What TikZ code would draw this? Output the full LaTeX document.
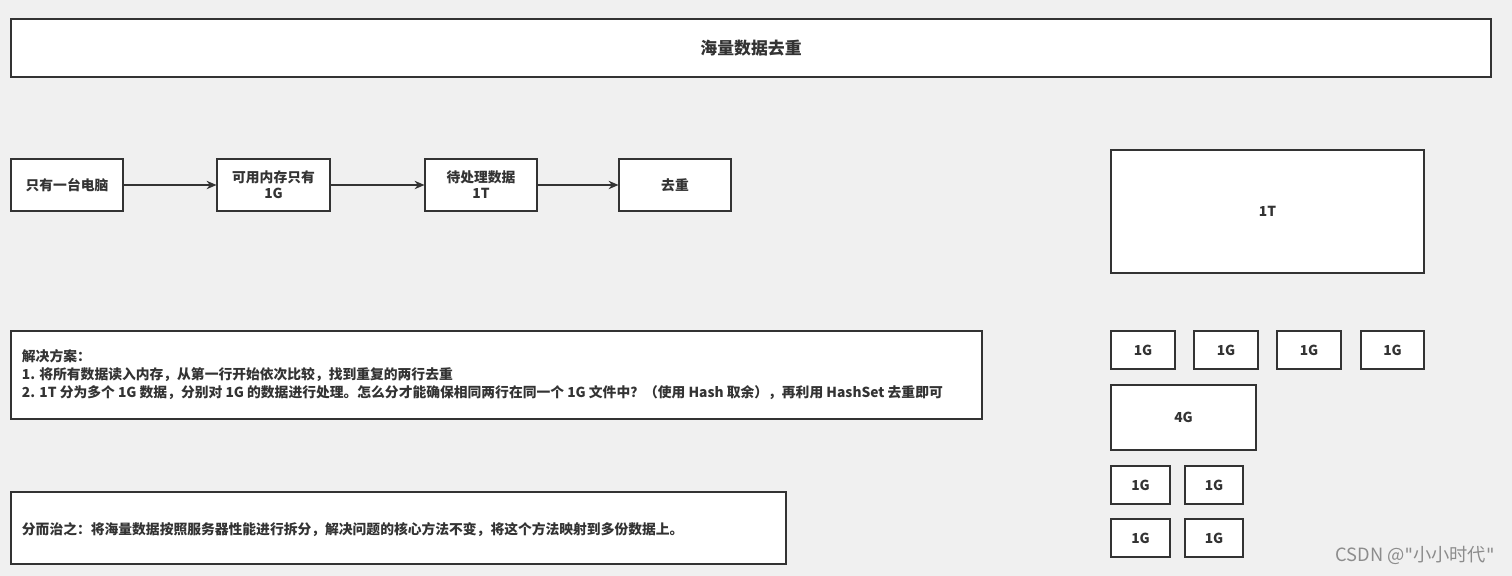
\documentclass[tikz,border=0pt]{standalone}
\usepackage{fontspec}
\setmainfont{Noto Sans CJK SC}
\newfontfamily\quotefont{DejaVu Sans}
\usetikzlibrary{arrows.meta,positioning}
\definecolor{bgc}{HTML}{F0F0F0}
\definecolor{ink}{HTML}{333333}
\tikzset{%
  box/.style={rectangle,draw=ink,fill=white,thick,inner sep=2pt,font=\bfseries\fontsize{9.8}{11.5}\selectfont,text=ink,align=center},
  sz/.style 2 args={minimum width=#1*0.025cm,minimum height=#2*0.025cm},
  flow/.style={-{Stealth[length=7pt,width=6pt]},ink,thick}%
}
\begin{document}
\begin{tikzpicture}[x=0.025cm,y=-0.025cm]
  \fill[bgc] (0,0) rectangle (1512,576);
  \useasboundingbox (0,0) rectangle (1512,576);

  \node (title) [box,sz={1480}{58},font=\bfseries\fontsize{12}{14}\selectfont] at (751,48) {海量数据去重};

  % flow
  \node (pc)   [box,sz={112}{52}] at (67,185) {只有一台电脑};
  \node (mem)  [box,sz={113}{52}] at (273.5,185) {可用内存只有\\1G};
  \node (data) [box,sz={112}{52}] at (481,185) {待处理数据\\1T};
  \node (dedup)[box,sz={112}{52}] at (675,185) {去重};
  \path (pc) edge[flow] (mem)
        (mem) edge[flow] (data)
        (data) edge[flow] (dedup);

  % text boxes
  \node (plan) [box,sz={971}{88}] at (496.5,375) {};
  \node [anchor=west,font=\bfseries\fontsize{9.8}{12.8}\selectfont,text=ink,align=left] at (17,375)
    {解决方案：\\1. 将所有数据读入内存，从第一行开始依次比较，找到重复的两行去重\\2. 1T 分为多个 1G 数据，分别对 1G 的数据进行处理。怎么分才能确保相同两行在同一个 1G 文件中？（使用 Hash 取余），再利用 HashSet 去重即可};
  \node (divide) [box,sz={775}{72}] at (398.5,528) {};
  \node [anchor=west,font=\bfseries\fontsize{9.8}{11.5}\selectfont,text=ink] at (17,530)
    {分而治之：将海量数据按照服务器性能进行拆分，解决问题的核心方法不变，将这个方法映射到多份数据上。};

  % blocks
  \node (t)   [box,sz={313}{123}] at (1267.5,211.5) {1T};
  \node (ga)  [box,sz={64}{38}] at (1143,350) {1G};
  \node (gb)  [box,sz={64}{38}] at (1226,350) {1G};
  \node (gc)  [box,sz={64}{38}] at (1309,350) {1G};
  \node (gd)  [box,sz={63}{38}] at (1392.5,350) {1G};
  \node (g4)  [box,sz={145}{65}] at (1183.5,417.5) {4G};
  \node (ge)  [box,sz={59}{38}] at (1140.5,485) {1G};
  \node (gf)  [box,sz={58}{38}] at (1214,485) {1G};
  \node (gg)  [box,sz={59}{38}] at (1140.5,538) {1G};
  \node (gh)  [box,sz={58}{38}] at (1214,538) {1G};

  \node (mark) [font=\fontsize{13}{15}\selectfont,text=black!45] at (1415,555) {CSDN @{\quotefont\char34}小小时代{\quotefont\char34}};
\end{tikzpicture}
\end{document}
